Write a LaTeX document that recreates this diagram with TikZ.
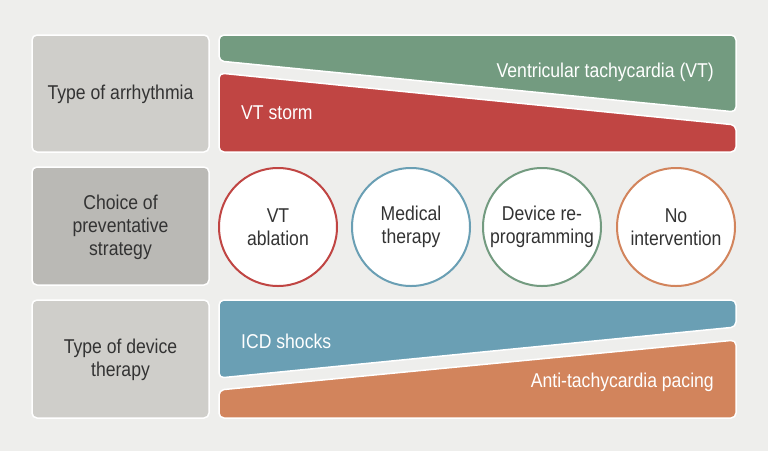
\documentclass[tikz,border=0pt]{standalone}
\usepackage{fontspec}
\setmainfont{Liberation Sans}[FakeStretch=0.88]
\definecolor{bg}{HTML}{EEEEEC}
\definecolor{boxgray}{HTML}{CFCECA}
\definecolor{boxdark}{HTML}{BAB9B5}
\definecolor{vtgreen}{HTML}{739B80}
\definecolor{vtred}{HTML}{C04543}
\definecolor{icdblue}{HTML}{6A9FB4}
\definecolor{atporange}{HTML}{D2845C}
\definecolor{txt}{HTML}{333333}
\begin{document}
\begin{tikzpicture}[x=1pt,y=-1pt,
  shapeband/.style={draw=white,line width=1.5pt,rounded corners=5pt},
  label/.style={font=\fontsize{20}{23}\selectfont,text=txt,align=center},
  bandtext/.style={font=\fontsize{20}{23}\selectfont,text=white,inner sep=0pt},
  strat/.style={circle,draw,line width=2pt,fill=white,minimum size=118pt,inner sep=0pt,
    font=\fontsize{20}{23}\selectfont,text=txt,align=center}]
\fill[bg] (0,0) rectangle (768,451);
\useasboundingbox (0,0) rectangle (768,451);
% left boxes
\filldraw[shapeband,fill=boxgray] (32,35) rectangle (209,152);
\filldraw[shapeband,fill=boxdark] (32,167) rectangle (209,285);
\filldraw[shapeband,fill=boxgray] (32,300) rectangle (209,418);
\node[label] (arr) at (120.5,94) {Type of arrhythmia};
\node[label] (choice) at (120.5,227) {Choice of\\preventative\\strategy};
\node[label] (dev) at (120.5,360) {Type of device\\therapy};
% arrhythmia bands
\filldraw[shapeband,fill=vtgreen] (219,35) -- (736,35) -- (736,112) -- (219,61) -- cycle;
\filldraw[shapeband,fill=vtred] (219,73) -- (736,125) -- (736,152) -- (219,152) -- cycle;
\node[bandtext,anchor=east] (vt) at (714,72) {Ventricular tachycardia (VT)};
\node[bandtext,anchor=west] (storm) at (241,113) {VT storm};
% device bands
\filldraw[shapeband,fill=icdblue] (219,300) -- (736,300) -- (736,327) -- (219,378) -- cycle;
\filldraw[shapeband,fill=atporange] (219,390) -- (736,340) -- (736,418) -- (219,418) -- cycle;
\node[bandtext,anchor=west] (icd) at (241,341) {ICD shocks};
\node[bandtext,anchor=east] (atp) at (714,382) {Anti-tachycardia pacing};
% strategies
\node[strat,draw=vtred] (abl) at (278,227) {VT\\ablation};
\node[strat,draw=icdblue] (med) at (411,227) {Medical\\therapy};
\node[strat,draw=vtgreen] (reprog) at (542,227) {Device re-\\programming};
\node[strat,draw=atporange] (noint) at (676,227) {No\\intervention};
\end{tikzpicture}
\end{document}
